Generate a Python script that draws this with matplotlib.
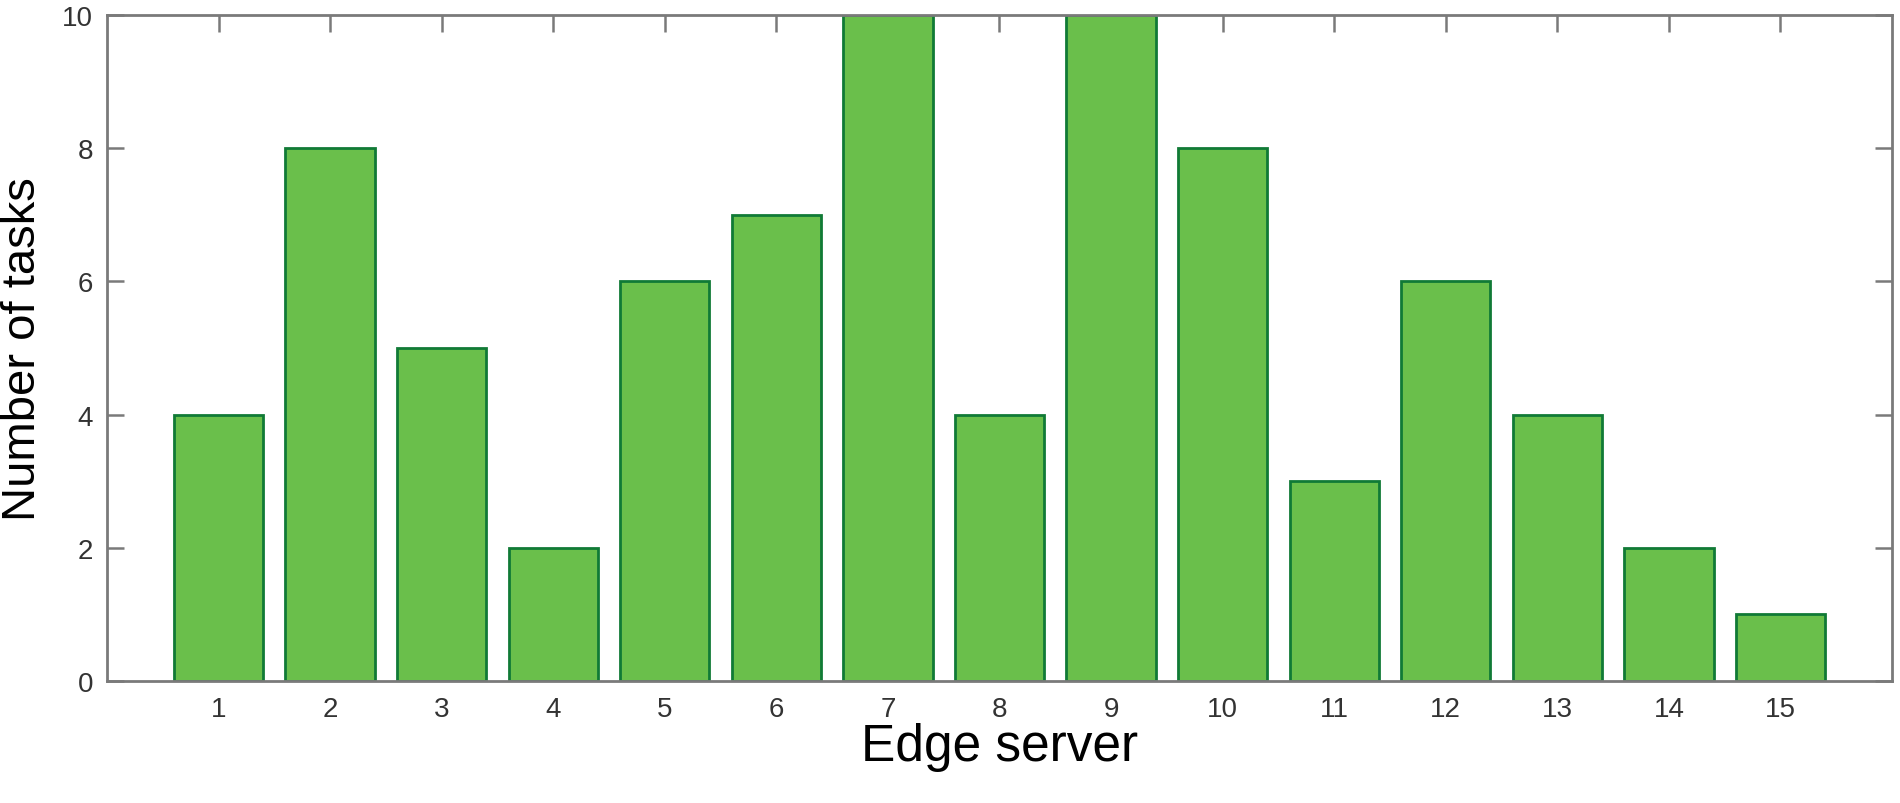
import matplotlib
matplotlib.use("Agg")
import matplotlib.pyplot as plt

# number of tasks assigned to each edge server
servers = list(range(1, 16))
tasks = [4, 8, 5, 2, 6, 7, 10, 4, 10, 8, 3, 6, 4, 2, 1]
yticks = [0, 2, 4, 6, 8, 10]

plt.rcParams['font.family'] = ['Liberation Sans', 'DejaVu Sans']

fig = plt.figure(figsize=(19, 8.04), dpi=100)
ax = fig.add_axes([0.0563, 0.152, 0.9395, 0.828])

ax.bar(servers, tasks, width=0.8, color='#6abf4b', edgecolor='#107a36', linewidth=2, zorder=2)

ax.set_xlim(0, 16)
ax.set_ylim(0, 10)
ax.set_xticks(servers)
ax.set_yticks(yticks)

for s in ax.spines.values():
    s.set_color('#7a7a7a')
    s.set_linewidth(2)

ax.tick_params(axis='both', direction='in', length=12, width=1.8, color='#7a7a7a',
               labelsize=20, labelcolor='#333333', top=True, right=True)
ax.tick_params(axis='x', pad=11)
ax.tick_params(axis='y', pad=10)

ax.set_xlabel('Edge server', fontsize=37, labelpad=0)
ax.set_ylabel('Number of tasks', fontsize=34, labelpad=12)

fig.savefig('out.png', dpi=100)
